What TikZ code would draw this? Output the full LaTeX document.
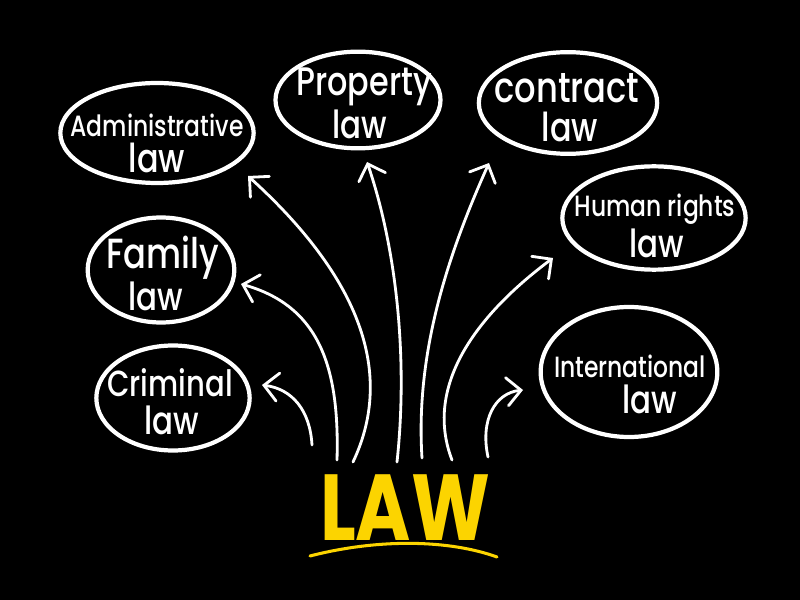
\documentclass[tikz,border=0pt]{standalone}
\usepackage{fontspec}
\usetikzlibrary{shapes.geometric,arrows.meta}
\newfontfamily\hand[FakeStretch=0.8]{Poppins Medium}
\newfontfamily\handbold[FakeStretch=0.8]{Poppins Bold}
\definecolor{lawyellow}{RGB}{252,212,0}
\newcommand{\fs}[1]{\hand\fontsize{#1}{#1}\selectfont}
\begin{document}
\begin{tikzpicture}[x=0.03cm,y=-0.03cm,
  bubble/.style={ellipse,draw=white,line width=3.6pt,inner sep=0pt},
  lbl/.style={text=white,inner sep=0pt},
  arr/.style={draw=white,line width=2.4pt,line cap=round,-{Straight Barb[length=12pt,width=24pt,line cap=round]}}
]
\fill[black] (0,0) rectangle (800,600);
\useasboundingbox (0,0) rectangle (800,600);

% bubbles
\node[bubble,minimum width=5.8cm,minimum height=3.0cm] (adm) at (157,133) {};
\node[bubble,minimum width=4.95cm,minimum height=2.9cm] (prop) at (358,100) {};
\node[bubble,minimum width=5.35cm,minimum height=3.05cm] (con) at (568,103) {};
\node[bubble,minimum width=5.5cm,minimum height=3.1cm] (hum) at (654,218) {};
\node[bubble,minimum width=4.4cm,minimum height=3.15cm] (fam) at (161,270) {};
\node[bubble,minimum width=4.6cm,minimum height=3.15cm] (crim) at (173,398) {};
\node[bubble,minimum width=5.3cm,minimum height=3.9cm] (intl) at (629,372) {};

% labels
\node[lbl,font=\fs{25}] (admA) at (157,125) {Administrative};
\node[lbl,font=\fs{34}] (admB) at (157,158) {law};
\node[lbl,font=\fs{34}] (propA) at (364,87) {Property};
\node[lbl,font=\fs{33}] (propB) at (360,124) {law};
\node[lbl,font=\fs{36}] (conA) at (567,88) {contract};
\node[lbl,font=\fs{34}] (conB) at (570,127) {law};
\node[lbl,font=\fs{25}] (humA) at (655,209) {Human rights};
\node[lbl,font=\fs{33}] (humB) at (657,243) {law};
\node[lbl,font=\fs{36}] (famA) at (163,258) {Family};
\node[lbl,font=\fs{33}] (famB) at (156,296) {law};
\node[lbl,font=\fs{31}] (crimA) at (170,383) {Criminal};
\node[lbl,font=\fs{33}] (crimB) at (172,420) {law};
\node[lbl,font=\fs{25}] (intlA) at (630,366) {International};
\node[lbl,font=\fs{33}] (intlB) at (650,399) {law};

% central word
\node[text=lawyellow,inner sep=0pt,font=\handbold\fontsize{80}{80}\selectfont] (law) at (405,508) {LAW};
\coordinate (ulA) at (310,556);
\coordinate (ulB) at (497,557);
\draw[lawyellow,line width=2.6pt,line cap=round] (ulA) .. controls (380,538) and (450,540) .. (ulB);

% arrow ends
\coordinate (s1) at (312,445); \coordinate (t1) at (262,385);
\coordinate (s2) at (337,460); \coordinate (t2) at (241,284);
\coordinate (s3) at (353,462); \coordinate (t3) at (248,176);
\coordinate (s4) at (397,462); \coordinate (t4) at (367,162);
\coordinate (s5) at (422,458); \coordinate (t5) at (489,163);
\coordinate (s6) at (452,460); \coordinate (t6) at (553,258);
\coordinate (s7) at (488,457); \coordinate (t7) at (523,390);

\draw[arr] (s1) .. controls (310,410) and (292,389) .. (t1);
\draw[arr] (s2) .. controls (340,360) and (315,305) .. (t2);
\draw[arr] (s3) .. controls (392,380) and (368,285) .. (t3);
\draw[arr] (s4) .. controls (408,360) and (397,250) .. (t4);
\draw[arr] (s5) .. controls (415,350) and (450,250) .. (t5);
\draw[arr] (s6) .. controls (425,390) and (470,320) .. (t6);
\draw[arr] (s7) .. controls (480,420) and (495,393) .. (t7);
\end{tikzpicture}
\end{document}
